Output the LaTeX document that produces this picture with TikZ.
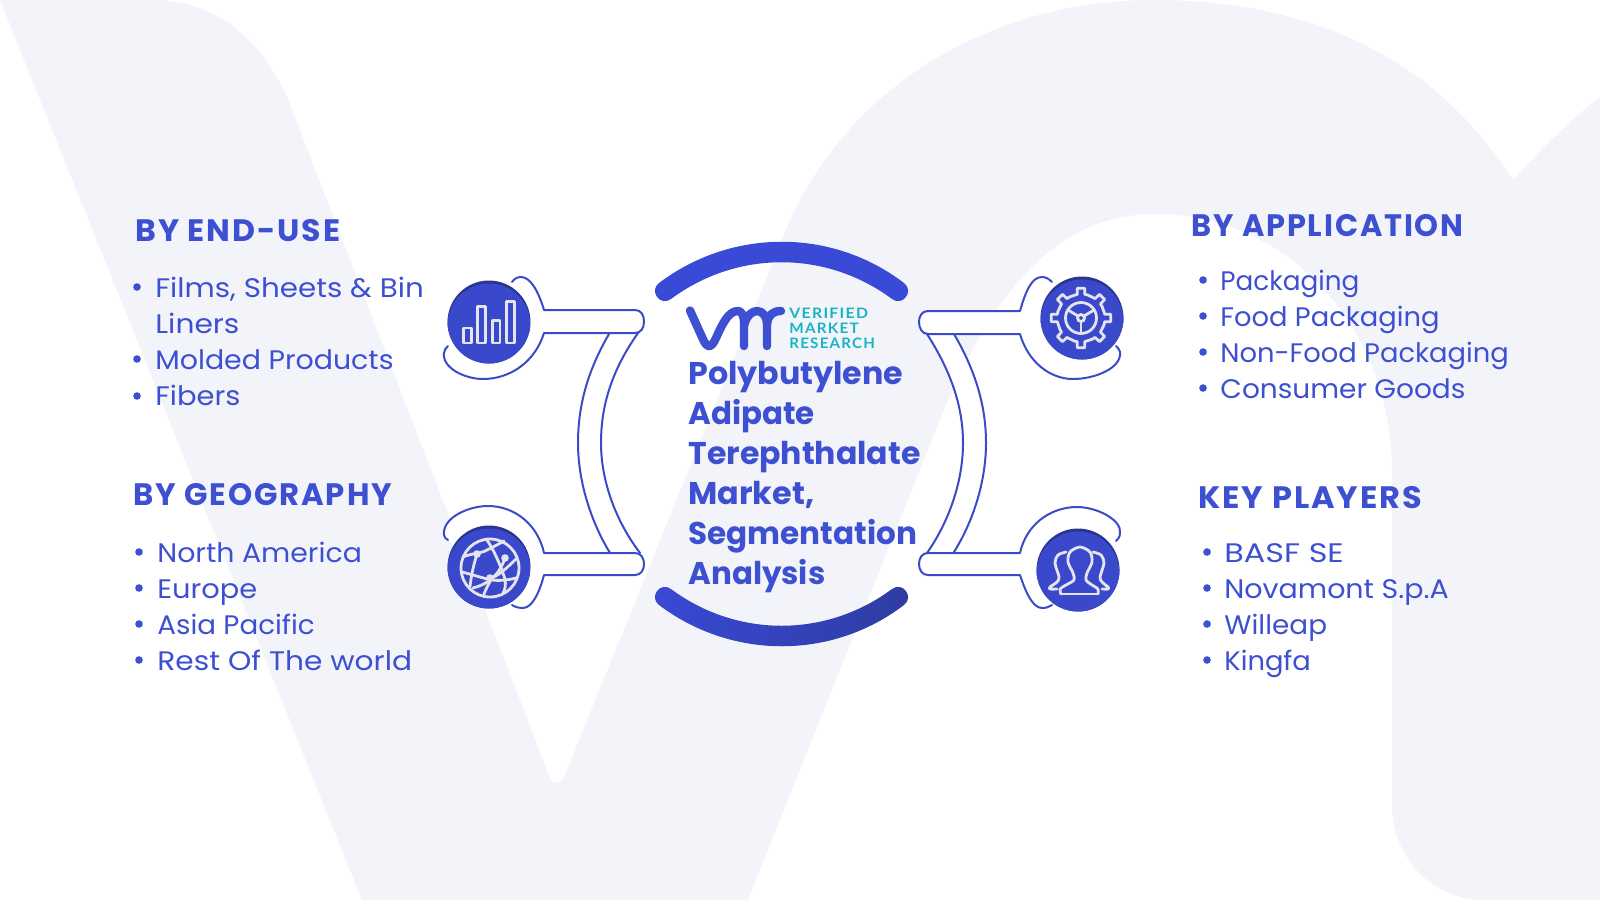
\documentclass[tikz,border=0pt]{standalone}
\usepackage{graphicx}
\usepackage{fontspec}
\setmainfont{Poppins}
\newfontfamily\headfont[LetterSpace=6]{Poppins}
\newfontfamily\logofont[LetterSpace=8]{Lato}
\newcommand{\sx}[2]{\scalebox{#1}[1]{#2}}
\definecolor{bgv}{HTML}{F3F4FA}
\definecolor{vblue}{HTML}{3E50D2}
\definecolor{lineb}{HTML}{3A4BC8}
\definecolor{discb}{HTML}{3A49CC}
\definecolor{discd}{HTML}{2A3590}
\definecolor{icon}{HTML}{E4E4EE}
\definecolor{teal}{HTML}{18B4C4}
\tikzset{
  x=0.5pt,y=-0.5pt,
  headtxt/.style={anchor=base west,inner sep=0pt,text=vblue,font=\fontsize{15.5}{17}\headfont\bfseries},
  itemtxt/.style={anchor=base west,inner sep=0pt,text=vblue,font=\fontsize{13.4}{16}\selectfont},
  titletxt/.style={anchor=base west,inner sep=0pt,text=vblue,font=\fontsize{15.7}{18}\selectfont\bfseries},
  logotxt/.style={anchor=base west,inner sep=0pt,text=teal,font=\fontsize{7.2}{9}\logofont\bfseries},
  bul/.style={circle,fill=vblue,inner sep=0pt,minimum size=3.8pt},
  ring/.style={draw=lineb,line width=1pt,line join=round,line cap=round},
  ico/.style={draw=icon,line width=1.4pt,line join=round,line cap=round},
}
\newcommand{\vmdisc}[2]{%
  \fill[discd] (#1,#2) circle[radius=41.5];
  \begin{scope}
    \clip (#1,#2) circle[radius=41.5];
    \fill[discb] (#1,#2+3) circle[radius=41.5];
  \end{scope}}
\begin{document}
\begin{tikzpicture}
\useasboundingbox (0,0) rectangle (1600,900);
\fill[white] (0,0) rectangle (1600,900);
% background mark
\fill[bgv] (0,0) -- (153,0) .. controls (220,0) and (265,45) .. (289,102)
  -- (545,765) .. controls (550,788) and (562,788) .. (567,770)
  -- (790,220) .. controls (860,70) and (1010,0) .. (1153,0)
  .. controls (1300,0) and (1430,50) .. (1513,180)
  .. controls (1540,150) and (1570,120) .. (1600,97)
  -- (1600,900) -- (1485,900) .. controls (1430,900) and (1392,855) .. (1392,805)
  -- (1392,470) .. controls (1392,330) and (1290,214) .. (1155,214)
  .. controls (1060,214) and (990,285) .. (930,445)
  -- (748,900) -- (362,900) -- cycle;
% arcs
\fill[vblue!92!blue] (659,283) .. controls (732,228) and (832,228) .. (904,283)
  .. controls (914.6,291) and (902.6,307) .. (892,299)
  .. controls (826,250) and (737,250) .. (671,299)
  .. controls (660.4,307) and (648.4,291) .. (659,283) -- cycle;
\path[left color=vblue!92!blue,right color=discd!75!vblue]
  (659,605) .. controls (732,660) and (832,660) .. (904,605)
  .. controls (914.6,597) and (902.6,581) .. (892,589)
  .. controls (826,638) and (737,638) .. (671,589)
  .. controls (660.4,581) and (648.4,597) .. (659,605) -- cycle;
% left band
\fill[white] (609,334) .. controls (588,370) and (578,405) .. (578,443) .. controls (578,480) and (590,520) .. (610,553)
  -- (640,553) .. controls (615,520) and (601,480) .. (601,443) .. controls (601,405) and (612,370) .. (638,333) -- cycle;
\draw[ring] (609,334) .. controls (588,370) and (578,405) .. (578,443) .. controls (578,480) and (590,520) .. (610,553);
\draw[ring] (640,553) .. controls (615,520) and (601,480) .. (601,443) .. controls (601,405) and (612,370) .. (638,333);
% right band
\fill[white] (954,334) .. controls (975,370) and (986,405) .. (986,443) .. controls (986,480) and (974,520) .. (954,552)
  -- (927,553) .. controls (950,520) and (963,480) .. (963,443) .. controls (963,405) and (950,370) .. (927,334) -- cycle;
\draw[ring] (954,334) .. controls (975,370) and (986,405) .. (986,443) .. controls (986,480) and (974,520) .. (954,552);
\draw[ring] (927,553) .. controls (950,520) and (963,480) .. (963,443) .. controls (963,405) and (950,370) .. (927,334);
% keyhole TL
\fill[white] (544,310) .. controls (538,290) and (530,277) .. (521,277) .. controls (517,277) and (514,279) .. (512,282)
  -- (448,346) .. controls (446,348) and (444,350) .. (444,353) .. controls (442,368) and (465,379) .. (483,379)
  .. controls (510,379) and (535,362) .. (544,333) -- (635,333) .. controls (641,333) and (644,328) .. (644,321.5)
  .. controls (644,315) and (641,310) .. (635,310) -- cycle;
\draw[ring] (512,282) .. controls (514,279) and (517,277) .. (521,277) .. controls (530,277) and (538,290) .. (544,310)
  -- (635,310) .. controls (641,310) and (644,315) .. (644,321.5) .. controls (644,328) and (641,333) .. (635,333)
  -- (544,333) .. controls (535,362) and (510,379) .. (483,379) .. controls (465,379) and (442,368) .. (444,353)
  .. controls (444,350) and (446,348) .. (448,346);
% keyhole BL
\fill[white] (544,553) .. controls (538,525) and (515,506) .. (488,506) .. controls (468,506) and (442,518) .. (444,535)
  .. controls (444,537) and (446,539) .. (448,540) -- (512,605) .. controls (515,607) and (519,608) .. (523,608)
  .. controls (533,608) and (540,590) .. (544,575) -- (635,575) .. controls (641,575) and (644,570) .. (644,564)
  .. controls (644,558) and (641,553) .. (635,553) -- cycle;
\draw[ring] (448,540) .. controls (446,539) and (444,537) .. (444,535) .. controls (442,518) and (468,506) .. (488,506)
  .. controls (515,506) and (538,525) .. (544,553) -- (635,553) .. controls (641,553) and (644,558) .. (644,564)
  .. controls (644,570) and (641,575) .. (635,575) -- (544,575) .. controls (540,590) and (533,608) .. (523,608)
  .. controls (519,608) and (515,607) .. (512,605);
% keyhole TR
\fill[white] (1020,311) .. controls (1026,290) and (1032,277) .. (1042,277) .. controls (1046,277) and (1049,279) .. (1052,282)
  -- (1116,346) .. controls (1118,348) and (1120,350) .. (1120,352) .. controls (1122,368) and (1095,379) .. (1073,379)
  .. controls (1050,379) and (1028,362) .. (1020,334) -- (928,334) .. controls (922,334) and (919,328) .. (919,322)
  .. controls (919,316) and (922,311) .. (928,311) -- cycle;
\draw[ring] (1052,282) .. controls (1049,279) and (1046,277) .. (1042,277) .. controls (1032,277) and (1026,290) .. (1020,311)
  -- (928,311) .. controls (922,311) and (919,316) .. (919,322) .. controls (919,328) and (922,334) .. (928,334)
  -- (1020,334) .. controls (1028,362) and (1050,379) .. (1073,379) .. controls (1095,379) and (1122,368) .. (1120,352)
  .. controls (1120,350) and (1118,348) .. (1116,346);
% keyhole BR
\fill[white] (1020,553) .. controls (1026,525) and (1050,507) .. (1077,507) .. controls (1097,507) and (1122,520) .. (1120,533)
  .. controls (1120,537) and (1118,539) .. (1116,541) -- (1052,605) .. controls (1049,607) and (1046,608) .. (1042,608)
  .. controls (1032,608) and (1025,590) .. (1020,575) -- (928,575) .. controls (922,575) and (919,570) .. (919,564)
  .. controls (919,558) and (922,553) .. (928,553) -- cycle;
\draw[ring] (1116,541) .. controls (1118,539) and (1120,537) .. (1120,533) .. controls (1122,520) and (1097,507) .. (1077,507)
  .. controls (1050,507) and (1026,525) .. (1020,553) -- (928,553) .. controls (922,553) and (919,558) .. (919,564)
  .. controls (919,570) and (922,575) .. (928,575) -- (1020,575) .. controls (1025,590) and (1032,608) .. (1042,608)
  .. controls (1046,608) and (1049,607) .. (1052,605);
% discs
\vmdisc{489}{322}
\vmdisc{489}{567}
\vmdisc{1082}{318}
\vmdisc{1078}{570}
% bars icon
\begin{scope}[shift={(489,322)},draw=icon]
  \draw[ico] (-25.7,6) rectangle (-17.3,21);
  \draw[ico] (-11.7,-15.7) rectangle (-3.3,21);
  \draw[ico] (3.3,-1.3) rectangle (11,21);
  \draw[ico] (17.7,-20.7) rectangle (25.7,21);
\end{scope}
% globe icon
\begin{scope}[shift={(489,567)}]
  \draw[ico] (1,1) circle[radius=29];
  \draw[ico] (-26,-10) .. controls (-20,-13) and (-8,-14) .. (-4,-16) .. controls (2,-19) and (10,-23) .. (15,-26);
  \draw[ico] (-2,-27) .. controls (8,-12) and (14,6) .. (16,12) .. controls (17,18) and (16,23) .. (14,26);
  \draw[ico] (-12,-13) .. controls (-16,0) and (-18,10) .. (-19,20);
  \draw[ico] (-16,21) .. controls (-5,18) and (0,14) .. (3,11) .. controls (12,7) and (22,-3) .. (28,-9);
  \draw[ico] (-27,5) .. controls (-15,8) and (0,13) .. (3,13) .. controls (10,14) and (20,13) .. (27,11);
  \draw[ico] (16,-9) .. controls (14,-2) and (8,8) .. (3,11) .. controls (0,16) and (-3,22) .. (-5,27);
  \fill[icon] (-12,-13) circle[radius=3.8] (16,-9) circle[radius=3.8] (1,11) circle[radius=3.8];
\end{scope}
% gear icon
\begin{scope}[shift={(1081,318)}]
  \draw[ico] (-11:24)
    \foreach \a in {0,45,...,315} { -- (\a-9:24) -- (\a-7:30) -- (\a+7:30) -- (\a+9:24) -- (\a+22.5-6:24) }
    -- cycle;
  \draw[ico] (0,0) circle[radius=15.5];
  \draw[ico] (0,0) circle[radius=3.5];
  \draw[ico] (0,3.5) -- (0,15);
  \draw[ico] (-3,-2) -- (-13,-8);
  \draw[ico] (3,-2) -- (13,-8);
\end{scope}
% people icon
\begin{scope}[shift={(1078,570)}]
  \draw[ico,smooth] plot coordinates {(-17,24) (-18,19) (-12,15) (-4,10) (-5,3) (-10,-8) (-8,-18) (2,-23) (12,-18) (14,-8) (9,3) (8,10) (14,15) (20,19) (20,24)};
  \draw[ico] (-17,24) -- (20,24);
  \draw[ico,smooth] plot coordinates {(-12,-18) (-20,-15) (-23,-7) (-19,7) (-21,12) (-28,17) (-28,19) (-21,19)};
  \draw[ico,smooth] plot coordinates {(15,-18) (23,-15) (26,-7) (22,7) (24,12) (30,17) (30,19) (24,19)};
\end{scope}
% logo
\draw[vblue,line width=4.2pt,line join=round,line cap=round]
  (690,310.5) -- (702,337) .. controls (707,349) and (711,349) .. (716,338)
  .. controls (722,325) and (728,311) .. (738,311) .. controls (741,311) and (744,315) .. (744,322) -- (744,346);
\draw[vblue,line width=4.2pt,line join=round,line cap=round]
  (744,326) .. controls (746,316) and (752,311) .. (757,311) .. controls (763,311) and (767,317) .. (767,324) -- (767,346);
\draw[vblue,line width=4.2pt,line join=round,line cap=round]
  (767,324) .. controls (768,315) and (773,311) .. (781,311);
\node[logotxt] (lgv) at (789,318) {\sx{1.1}{VERIFIED}};
\node[logotxt] (lgm) at (789,333) {\sx{1.06}{MARKET}};
\node[logotxt] (lgr) at (789,348) {\sx{1.05}{RESEARCH}};
% title
\node[titletxt] (t1) at (688,384) {\sx{1.01}{Polybutylene}};
\node[titletxt] (t2) at (688,424) {\sx{0.985}{Adipate}};
\node[titletxt] (t3) at (688,464) {\sx{1.005}{Terephthalate}};
\node[titletxt] (t4) at (688,504) {\sx{1.015}{Market,}};
\node[titletxt] (t5) at (688,544) {\sx{0.99}{Segmentation}};
\node[titletxt] (t6) at (688,584) {\sx{0.985}{Analysis}};
% end-use
\node[headtxt] (h1) at (135,241) {\sx{1.02}{BY END-USE}};
\node[itemtxt] (a1) at (155,297) {\sx{1.096}{Films, Sheets \& Bin}};
\node[itemtxt] (a2) at (155,333) {\sx{1.107}{Liners}};
\node[itemtxt] (a3) at (155,369) {\sx{1.06}{Molded Products}};
\node[itemtxt] (a4) at (155,405) {\sx{1.08}{Fibers}};
\node[bul] (ab1) at (137,287) {};
\node[bul] (ab3) at (137,359) {};
\node[bul] (ab4) at (137,396) {};
% geography
\node[headtxt] (h2) at (133,505.5) {\sx{0.992}{BY GEOGRAPHY}};
\node[itemtxt] (b1) at (157,562.5) {\sx{1.058}{North America}};
\node[itemtxt] (b2) at (157,598) {\sx{1.077}{Europe}};
\node[itemtxt] (b3) at (157,634) {\sx{1.034}{Asia Pacific}};
\node[itemtxt] (b4) at (157,670.5) {\sx{1.107}{Rest Of The world}};
\node[bul] (bb1) at (139,552) {};
\node[bul] (bb2) at (139,588) {};
\node[bul] (bb3) at (139,624) {};
\node[bul] (bb4) at (139,660) {};
% application
\node[headtxt] (h3) at (1191,236) {\sx{0.982}{BY APPLICATION}};
\node[itemtxt] (c1) at (1220,290) {\sx{0.98}{Packaging}};
\node[itemtxt] (c2) at (1220,326) {\sx{1.02}{Food Packaging}};
\node[itemtxt] (c3) at (1220,362) {\sx{1.02}{Non-Food Packaging}};
\node[itemtxt] (c4) at (1220,398) {\sx{1.044}{Consumer Goods}};
\node[bul] (cb1) at (1203,280) {};
\node[bul] (cb2) at (1203,316) {};
\node[bul] (cb3) at (1203,352) {};
\node[bul] (cb4) at (1203,388) {};
% players
\node[headtxt] (h4) at (1198,508) {\sx{1.033}{KEY PLAYERS}};
\node[itemtxt] (d1) at (1224,562.5) {\sx{1.19}{BASF SE}};
\node[itemtxt] (d2) at (1224,598) {\sx{1.063}{Novamont S.p.A}};
\node[itemtxt] (d3) at (1224,634) {\sx{1.04}{Willeap}};
\node[itemtxt] (d4) at (1224,670.5) {\sx{1.02}{Kingfa}};
\node[bul] (db1) at (1207,552) {};
\node[bul] (db2) at (1207,588) {};
\node[bul] (db3) at (1207,624) {};
\node[bul] (db4) at (1207,660) {};
\end{tikzpicture}
\end{document}
